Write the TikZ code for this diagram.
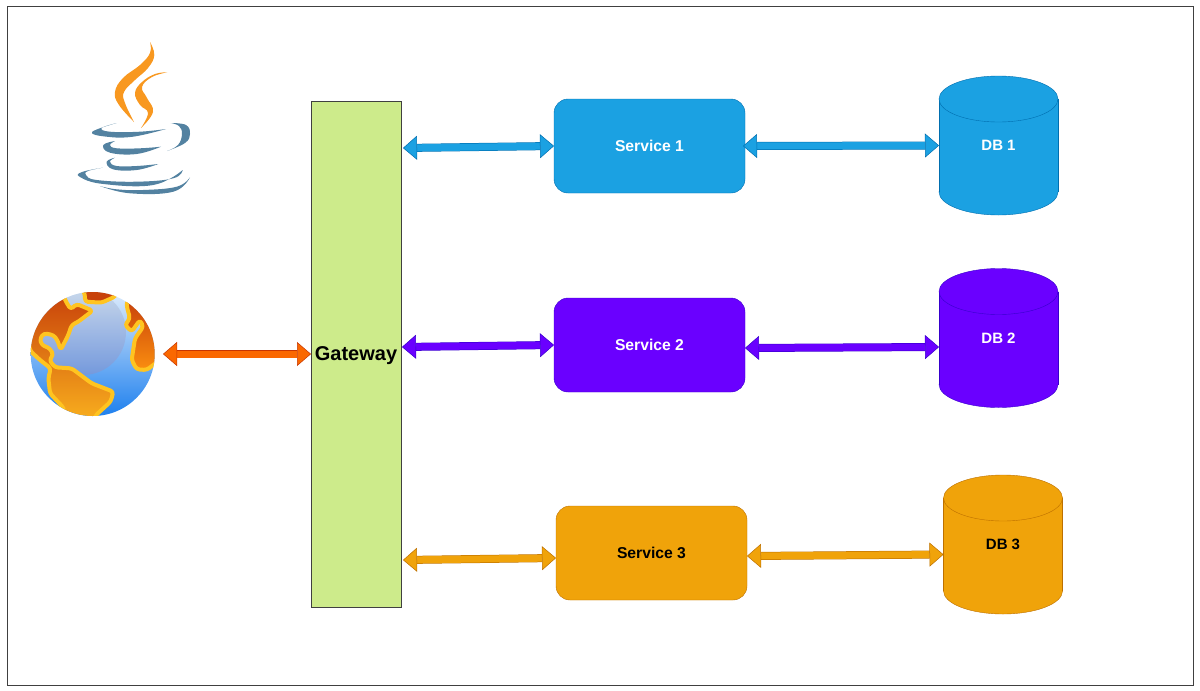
\documentclass[tikz,border=0pt]{standalone}
\usepackage{tikz}
\usepackage{xcolor}
\usepackage{fontspec}
\setmainfont{Liberation Sans}
\usetikzlibrary{arrows.meta}

\definecolor{bluefill}{HTML}{1BA1E2}
\definecolor{blueline}{HTML}{006EAF}
\definecolor{violetfill}{HTML}{6A00FF}
\definecolor{violetline}{HTML}{3700CC}
\definecolor{amberfill}{HTML}{F0A30A}
\definecolor{amberline}{HTML}{BD7000}
\definecolor{webfill}{HTML}{FA6800}
\definecolor{webline}{HTML}{C73500}
\definecolor{gatewayfill}{HTML}{CDEB8B}
\definecolor{javablue}{HTML}{5382A1}
\definecolor{javaorange}{HTML}{F89820}
\definecolor{landline}{HTML}{FFC420}
\definecolor{landtop}{HTML}{C8420A}
\definecolor{landlow}{HTML}{FBB41F}
\definecolor{seatop}{HTML}{DCEBFC}
\definecolor{seamid}{HTML}{8DBBFB}
\definecolor{sealow}{HTML}{1E80EE}
\definecolor{haloltop}{HTML}{C6D6EA}
\definecolor{halolow}{HTML}{7798DA}

\tikzset{
  service/.style n args={3}{rectangle, rounded corners=14pt, draw=#2, fill=#1, text=#3,
    minimum width=191pt, minimum height=94pt, inner sep=0pt, outer sep=0pt,
    font=\fontsize{15.7}{18}\bfseries},
  database/.style={minimum width=119pt, minimum height=139pt, inner sep=0pt, outer sep=0pt,
    font=\fontsize{15}{18}\bfseries},
  link/.style n args={2}{draw=#2, double=#1, double distance=7pt, line width=0.5pt,
    {Triangle[length=14pt,width=24pt,fill=#1,color=#2,line width=0.5pt]}-{Triangle[length=14pt,width=24pt,fill=#1,color=#2,line width=0.5pt]}},
  land/.style={draw=landline, line width=4pt, line join=round, rounded corners=3pt}
}

% one java stroke: an outer edge and a way back
\newcommand{\javapart}[3]{\fill[#1] plot[smooth,tension=0.7] coordinates {#2} -- plot[smooth,tension=0.7] coordinates {#3} -- cycle;}

% a drum with its label: name, x, y, fill, line, text colour, label
\newcommand{\dbdrum}[7]{
  \begin{scope}[shift={(#2,#3)}, draw=#5, fill=#4]
    \filldraw (0,46.5) ellipse [x radius=59.5pt, y radius=23pt];
    \fill (-59.5,-46.5) rectangle (59.5,46.5);
    \draw (-59.5,-46.5) -- (-59.5,46.5);
    \draw (59.5,-46.5) -- (59.5,46.5);
    \filldraw (0,-46.5) ellipse [x radius=59.5pt, y radius=23pt];
    \node[database, text=#6] (#1) at (0,0) {#7};
  \end{scope}
}

\begin{document}
\begin{tikzpicture}[x=1pt,y=-1pt]
  \useasboundingbox (0,0) rectangle (1200,691);

  % Outer frame
  \draw[draw=black!75, line width=0.7pt] (7,6) rectangle (1193,685);

  % Java logo
  \javapart{javaorange}{(150,42) (154.3,55) (148,68) (135,80) (124,92) (125,103) (134,122)}{(134,122) (119,105) (115,92) (123,78) (140,65) (150,53) (150,42)}
  \javapart{javaorange}{(167.3,72.3) (152,77) (142,87) (147,98) (153,112) (141,128)}{(141,128) (148,113) (140,105) (135,93) (142,82) (155,74) (167.3,72.3)}
  \javapart{javablue}{(116.7,123) (92,132) (106.7,136.7) (133,136.7) (166,129)}{(166,129) (140,131.7) (110,131.7) (101.7,128) (116.7,123)}
  \javapart{javablue}{(170.7,123) (186,125) (190,134) (185,143) (167,151)}{(167,151) (178,145) (182,134) (179,126) (170.7,123)}
  \javapart{javablue}{(115,141) (103.3,145) (110,152.7) (136.7,154) (161,146.7)}{(161,146.7) (140,148.3) (116.7,148.3) (110,145) (115,141)}
  \javapart{javablue}{(115,157.7) (106.7,161.7) (113,169.3) (136.7,170) (158.3,164)}{(158.3,164) (136.7,166) (116.7,166) (110,161.7) (115,157.7)}
  \javapart{javablue}{(102.7,167.7) (82,172) (80,177) (103.3,184) (153.3,185) (182.7,170)}{(182.7,170) (173.3,178.3) (136.7,181.7) (96.7,180) (86,175) (88,171) (102.7,167.7)}
  \javapart{javablue}{(100,186) (130,193.3) (173.3,191.7) (190,177.3)}{(190,177.3) (176.7,186.7) (143,190) (116.7,189.3) (100,186)}

  % Globe
  \begin{scope}
    \clip (92.7,354) circle (62);
    \shade[top color=seatop, middle color=seamid, bottom color=sealow] (30,292) rectangle (155,416);
    \shade[top color=haloltop, bottom color=halolow, opacity=0.9] (83,332) circle (43);
    \begin{scope}[shift={(20,280)},x=0.3333pt,y=-0.3333pt]
      % top edge
      \shadedraw[land, top color=landtop, bottom color=landtop] (185,20) -- (195,45) -- (195,65) -- (245,68) -- (285,50) -- (300,20) -- cycle;
      % left and lower land
      \shadedraw[land, top color=landtop, bottom color=landlow] (135,60) -- (152,88) -- (170,72) -- (218,92) -- (175,125) -- (155,135) -- (145,165) -- (122,210) -- (112,180) -- (100,165) -- (72,160) -- (60,175) -- (65,195) -- (90,205) -- (100,225) -- (88,240) -- (105,262) -- (155,265) -- (215,310) -- (280,335) -- (272,365) -- (225,408) -- (225,440) -- (130,440) -- (132,385) -- (90,340) -- (85,295) -- (92,265) -- (60,240) -- (30,212) -- (20,150) -- (60,60) -- (130,40) -- cycle;
      % right land
      \shadedraw[land, top color=landtop, bottom color=webfill!50!landlow] (322,60) -- (320,78) -- (330,115) -- (315,135) -- (335,155) -- (360,120) -- (370,140) -- (345,175) -- (335,240) -- (350,268) -- (380,270) -- (420,240) -- (420,100) -- cycle;
    \end{scope}
  \end{scope}
  \coordinate (webport) at (163,354);

  % Gateway
  \node[draw=black!75, fill=gatewayfill, minimum width=90pt, minimum height=506pt, inner sep=0pt, outer sep=0pt,
    text depth=0pt, font=\fontsize{20}{22}\bfseries] (gateway) at (356,354) {Gateway};
  \coordinate (gateway1) at (403,148);
  \coordinate (gateway2) at (402,347);
  \coordinate (gateway3) at (403,560);

  % Services
  \node[service={bluefill}{blueline}{white}] (service1) at (649.5,146) {Service 1};
  \node[service={violetfill}{violetline}{white}] (service2) at (649.5,345) {Service 2};
  \node[service={amberfill}{amberline}{black}] (service3) at (651.5,553) {Service 3};

  % Databases
  \dbdrum{db1}{998.5}{145.5}{bluefill}{blueline}{white}{DB 1}
  \dbdrum{db2}{998.5}{338}{violetfill}{violetline}{white}{DB 2}
  \dbdrum{db3}{1003}{544.5}{amberfill}{amberline}{black}{DB 3}

  % Arrows
  \draw[link={webfill}{webline}] (webport) -- (gateway.west);
  \draw[link={bluefill}{blueline}] (gateway1) -- (service1.west);
  \draw[link={bluefill}{blueline}] ([xshift=-2pt]service1.east) -- (db1.west);
  \draw[link={violetfill}{violetline}] (gateway2) -- (service2.west);
  \draw[link={violetfill}{violetline}] ([yshift=-3pt]service2.east) -- ([yshift=-9pt]db2.west);
  \draw[link={amberfill}{amberline}] (gateway3) -- ([yshift=-5pt]service3.west);
  \draw[link={amberfill}{amberline}] ([yshift=-3pt]service3.east) -- ([yshift=-10pt]db3.west);
\end{tikzpicture}
\end{document}
